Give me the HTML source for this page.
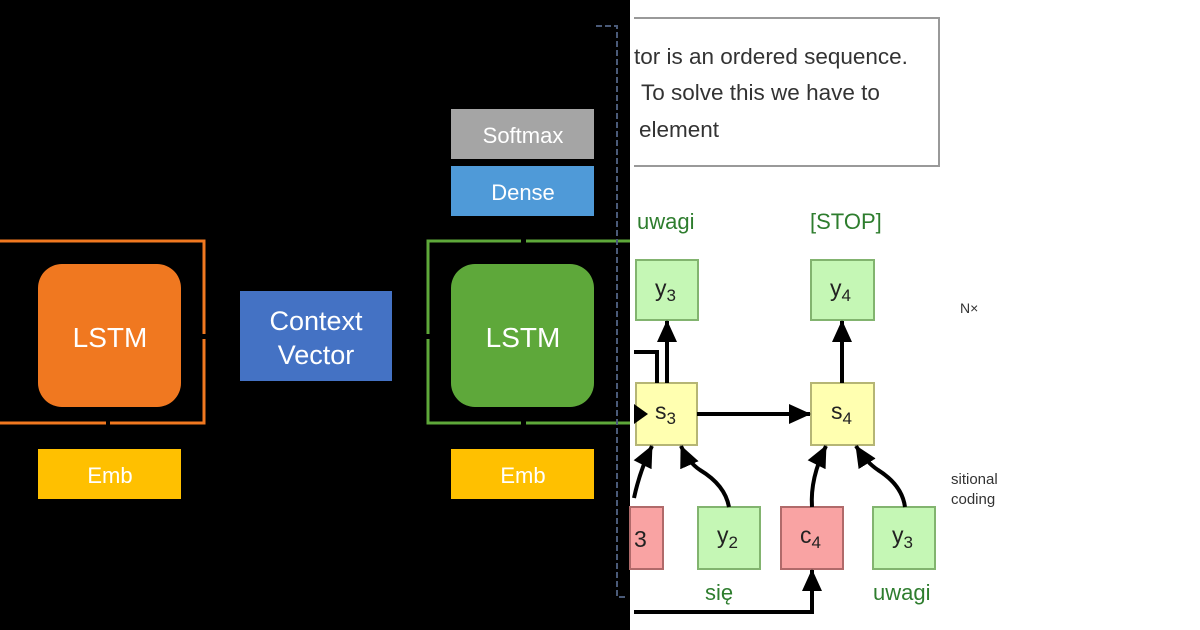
<!DOCTYPE html>
<html><head><meta charset="utf-8"><style>
html,body{margin:0;padding:0;width:1200px;height:630px;overflow:hidden;background:#fff}
svg{display:block}
</style></head><body>
<svg width="1200" height="630" xmlns="http://www.w3.org/2000/svg">
<defs>
<marker id="ah" markerWidth="22" markerHeight="20" refX="21" refY="10" orient="auto" markerUnits="userSpaceOnUse">
<path d="M0,0 L22,10 L0,20 z" fill="#000"/></marker>
</defs>
<rect x="0" y="0" width="630" height="630" fill="#000"/>
<g font-family="Liberation Sans, sans-serif" fill="#fff" text-anchor="middle">
<path d="M0,241 H204 V334 M204,339 V423 H110 M106,423 H0" stroke="#f07820" stroke-width="3" fill="none"/>
<rect x="38" y="264" width="143" height="143" rx="24" fill="#f07820"/>
<text x="110" y="347" font-size="28">LSTM</text>
<rect x="38" y="449" width="143" height="50" fill="#ffc000"/>
<text x="110" y="483" font-size="22">Emb</text>
<rect x="240" y="291" width="152" height="90" fill="#4472c4"/>
<text x="316" y="330" font-size="27">Context</text>
<text x="316" y="364" font-size="27">Vector</text>
<path d="M630,241 H526 M521,241 H428 V334 M428,339 V423 H521 M526,423 H630" stroke="#5ea83a" stroke-width="3" fill="none"/>
<rect x="451" y="264" width="143" height="143" rx="24" fill="#5ea83a"/>
<text x="523" y="347" font-size="28">LSTM</text>
<rect x="451" y="449" width="143" height="50" fill="#ffc000"/>
<text x="523" y="483" font-size="22">Emb</text>
<rect x="451" y="109" width="143" height="50" fill="#a5a5a5"/>
<text x="523" y="143" font-size="22">Softmax</text>
<rect x="451" y="166" width="143" height="50" fill="#4f9ad8"/>
<text x="523" y="200" font-size="22">Dense</text>
</g>
<path d="M596,26 H617 V597 H626" stroke="#4a5a78" stroke-width="2" stroke-dasharray="6,3" fill="none"/>
<rect x="630" y="0" width="570" height="630" fill="#fff"/>
<path d="M634,18 H939 V166 H634" stroke="#999" stroke-width="2" fill="none"/>
<g font-family="Liberation Sans, sans-serif" font-size="22.5" fill="#333">
<text x="634" y="64">tor is an ordered sequence.</text>
<text x="641" y="100">To solve this we have to</text>
<text x="639" y="137">element</text>
</g>
<g font-family="Liberation Sans, sans-serif" font-size="22" fill="#2e7d2e">
<text x="637" y="229">uwagi</text>
<text x="810" y="229">[STOP]</text>
<text x="705" y="600">się</text>
<text x="873" y="600">uwagi</text>
</g>
<g font-family="Liberation Sans, sans-serif" fill="#333">
<text x="960" y="313" font-size="14">N×</text>
<text x="951" y="484" font-size="15">sitional</text>
<text x="951" y="504" font-size="15">coding</text>
</g>
<g stroke-width="2">
<rect x="636" y="260" width="62" height="60" fill="#c5f7b5" stroke="#82b46f"/>
<rect x="811" y="260" width="63" height="60" fill="#c5f7b5" stroke="#82b46f"/>
<rect x="636" y="383" width="61" height="62" fill="#ffffb0" stroke="#b5b575"/>
<rect x="811" y="383" width="63" height="62" fill="#ffffb0" stroke="#b5b575"/>
<rect x="630" y="507" width="33" height="62" fill="#f9a3a3" stroke="#b06a6a"/>
<rect x="698" y="507" width="62" height="62" fill="#c5f7b5" stroke="#82b46f"/>
<rect x="781" y="507" width="62" height="62" fill="#f9a3a3" stroke="#b06a6a"/>
<rect x="873" y="507" width="62" height="62" fill="#c5f7b5" stroke="#82b46f"/>
</g>
<g font-family="Liberation Sans, sans-serif" font-size="23" fill="#222">
<text x="655" y="296">y<tspan font-size="17" dy="5">3</tspan></text>
<text x="830" y="296">y<tspan font-size="17" dy="5">4</tspan></text>
<text x="655" y="419">s<tspan font-size="17" dy="5">3</tspan></text>
<text x="831" y="419">s<tspan font-size="17" dy="5">4</tspan></text>
<text x="634" y="547">3</text>
<text x="717" y="543">y<tspan font-size="17" dy="5">2</tspan></text>
<text x="800" y="543">c<tspan font-size="17" dy="5">4</tspan></text>
<text x="892" y="543">y<tspan font-size="17" dy="5">3</tspan></text>
</g>
<g stroke="#000" stroke-width="4" fill="none">
<path d="M667,383 V321" marker-end="url(#ah)"/>
<path d="M842,383 V321" marker-end="url(#ah)"/>
<path d="M634,352 H657 V383"/>
<path d="M697,414 H810" marker-end="url(#ah)"/>
<path d="M634,498 Q640,470 652,446" marker-end="url(#ah)"/>
<path d="M729,507 Q725,485 700,470 Q688,462 681,446" marker-end="url(#ah)"/>
<path d="M812,507 Q810,478 826,446" marker-end="url(#ah)"/>
<path d="M905,507 Q902,485 878,470 Q866,462 856,446" marker-end="url(#ah)"/>
<path d="M634,612 H812 V570" marker-end="url(#ah)"/>
</g>
<path d="M634,404 L648,414 L634,424 z" fill="#000"/>
</svg>
</body></html>
